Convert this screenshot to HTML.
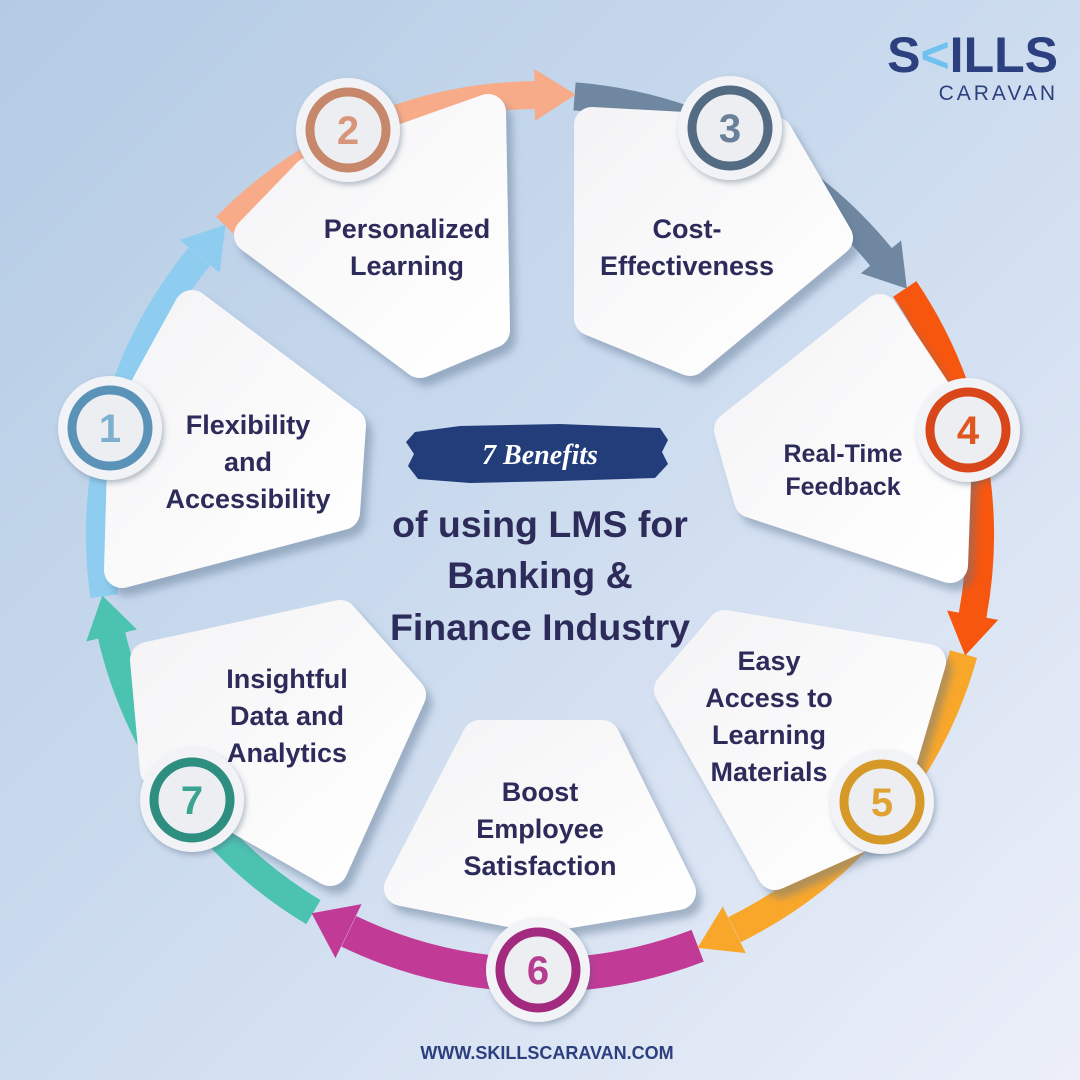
<!DOCTYPE html>
<html><head><meta charset="utf-8"><style>
html,body{margin:0;padding:0;width:1080px;height:1080px;overflow:hidden;}
body{background:linear-gradient(135deg,#b3cbe4 0%,#cddcef 50%,#eceff9 100%);}
svg{display:block}
.t{font-family:"Liberation Sans",sans-serif;font-weight:bold;fill:#2d2b5a;text-anchor:middle}
.n{font-family:"Liberation Sans",sans-serif;font-weight:bold;text-anchor:middle;font-size:40px}
</style></head><body>
<svg width="1080" height="1080" viewBox="0 0 1080 1080">
<defs>
<filter id="sh" x="-20%" y="-20%" width="150%" height="150%"><feDropShadow dx="6" dy="8" stdDeviation="4" flood-color="#5a7390" flood-opacity="0.45"/></filter>
<filter id="sh2" x="-30%" y="-30%" width="160%" height="160%"><feDropShadow dx="2" dy="3" stdDeviation="3" flood-color="#4a5f78" flood-opacity="0.4"/></filter>
<linearGradient id="cg" x1="0" y1="0" x2="1" y2="1"><stop offset="0" stop-color="#f4f4f6"/><stop offset="1" stop-color="#ffffff"/></linearGradient>
</defs>
<g fill="none" stroke-width="28">
<circle cx="540" cy="535" r="440" stroke="#8ecdf0" stroke-dasharray="363 3000" transform="rotate(172 540 535)"/>
<circle cx="540" cy="535" r="440" stroke="#f7ab88" stroke-dasharray="344 3000" transform="rotate(224.5 540 535)"/>
<circle cx="540" cy="535" r="440" stroke="#6f87a0" stroke-dasharray="356 3000" transform="rotate(274.5 540 535)"/>
<circle cx="540" cy="535" r="440" stroke="#f7560e" stroke-dasharray="342 3000" transform="rotate(326 540 535)"/>
<circle cx="540" cy="535" r="440" stroke="#f9a72a" stroke-dasharray="369 3000" transform="rotate(15.7 540 535)"/>
<circle cx="540" cy="535" r="440" stroke="#c13a96" stroke-dasharray="359 3000" transform="rotate(69 540 535)" stroke-width="34"/>
<circle cx="540" cy="535" r="440" stroke="#4cc3b0" stroke-dasharray="352 3000" transform="rotate(121 540 535)"/>
</g>
<g>
<polygon points="954,535 1006,535 980,576" fill="#8ecdf0" transform="rotate(219.3 540 535)"/>
<polygon points="954,535 1006,535 980,576" fill="#f7ab88" transform="rotate(269.3 540 535)"/>
<polygon points="954,535 1006,535 980,576" fill="#6f87a0" transform="rotate(320.8 540 535)"/>
<polygon points="954,535 1006,535 980,576" fill="#f7560e" transform="rotate(10.5 540 535)"/>
<polygon points="954,535 1006,535 980,576" fill="#f9a72a" transform="rotate(63.8 540 535)"/>
<polygon points="950,535 1010,535 980,576" fill="#c13a96" transform="rotate(115.8 540 535)"/>
<polygon points="954,535 1006,535 980,576" fill="#4cc3b0" transform="rotate(166.8 540 535)"/>
</g>
<g fill="url(#cg)" stroke="url(#cg)" stroke-width="36" stroke-linejoin="round" filter="url(#sh)">
<polygon points="252,235 310,175 488,112 492,330 420,360"/>
<polygon points="592,125 775,135 835,238 690,358 592,318"/>
<polygon points="732,430 880,312 955,425 950,565 752,500"/>
<polygon points="672,690 725,628 928,662 880,825 775,872"/>
<polygon points="402,888 480,738 602,738 678,892 540,915"/>
<polygon points="148,660 340,618 408,695 330,868 158,770"/>
<polygon points="122,570 126,428 192,308 348,425 342,512"/>
</g>
<g class="t" font-size="27">
<text x="407" y="238">Personalized</text><text x="407" y="275">Learning</text>
<text x="687" y="238">Cost-</text><text x="687" y="275">Effectiveness</text>
<text x="843" y="462" font-size="25">Real-Time</text><text x="843" y="495" font-size="25">Feedback</text>
<text x="769" y="670">Easy</text><text x="769" y="707">Access to</text><text x="769" y="744">Learning</text><text x="769" y="781">Materials</text>
<text x="540" y="801">Boost</text><text x="540" y="838">Employee</text><text x="540" y="875">Satisfaction</text>
<text x="287" y="688">Insightful</text><text x="287" y="725">Data and</text><text x="287" y="762">Analytics</text>
<text x="248" y="434">Flexibility</text><text x="248" y="471">and</text><text x="248" y="508">Accessibility</text>
</g>
<g>
<g filter="url(#sh2)"><circle cx="110" cy="428" r="52" fill="#f2f3f6"/><circle cx="348" cy="130" r="52" fill="#f2f3f6"/><circle cx="730" cy="128" r="52" fill="#f2f3f6"/><circle cx="968" cy="430" r="52" fill="#f2f3f6"/><circle cx="882" cy="802" r="52" fill="#f2f3f6"/><circle cx="538" cy="970" r="52" fill="#f2f3f6"/><circle cx="192" cy="800" r="52" fill="#f2f3f6"/></g>
<g fill="#eceef2" stroke-width="9">
<circle cx="110" cy="428" r="38" stroke="#5b93b8"/><circle cx="348" cy="130" r="38" stroke="#c7876a"/><circle cx="730" cy="128" r="38" stroke="#536b83"/><circle cx="968" cy="430" r="38" stroke="#d8461a"/><circle cx="882" cy="802" r="38" stroke="#d69827"/><circle cx="538" cy="970" r="38" stroke="#a32b7f"/><circle cx="192" cy="800" r="38" stroke="#2e8f80"/>
</g>
<text class="n" x="110" y="442" fill="#7fb0d0">1</text><text class="n" x="348" y="144" fill="#d9957a">2</text><text class="n" x="730" y="142" fill="#6a8098">3</text><text class="n" x="968" y="444" fill="#e0561f">4</text><text class="n" x="882" y="816" fill="#e0a233">5</text><text class="n" x="538" y="984" fill="#b43d90">6</text><text class="n" x="192" y="814" fill="#3aa391">7</text>
</g>
<path d="M415,432 L460,426 L560,424 L660,428 L668,440 L662,452 L668,464 L655,478 L560,481 L470,483 L418,479 L408,466 L414,454 L406,442 Z" fill="#223d7a"/>
<text x="540" y="464" font-family="Liberation Serif,serif" font-style="italic" font-weight="bold" font-size="28" fill="#fff" text-anchor="middle">7  Benefits</text>
<g class="t" font-size="37.5" fill="#2d2b5a">
<text x="540" y="537">of using LMS for</text><text x="540" y="588">Banking &amp;</text><text x="540" y="640">Finance Industry</text>
</g>
<text x="1058" y="72" font-family="Liberation Sans,sans-serif" font-weight="bold" font-size="50" fill="#2c3f7f" text-anchor="end">S<tspan fill="#6fc2f0">&lt;</tspan>ILLS</text>
<text x="1058" y="100" font-family="Liberation Sans,sans-serif" font-size="21" fill="#2c3f7f" text-anchor="end" letter-spacing="3">CARAVAN</text>
<text x="547" y="1059" font-family="Liberation Sans,sans-serif" font-weight="bold" font-size="18" fill="#2c3f7f" text-anchor="middle">WWW.SKILLSCARAVAN.COM</text>
</svg>
</body></html>
